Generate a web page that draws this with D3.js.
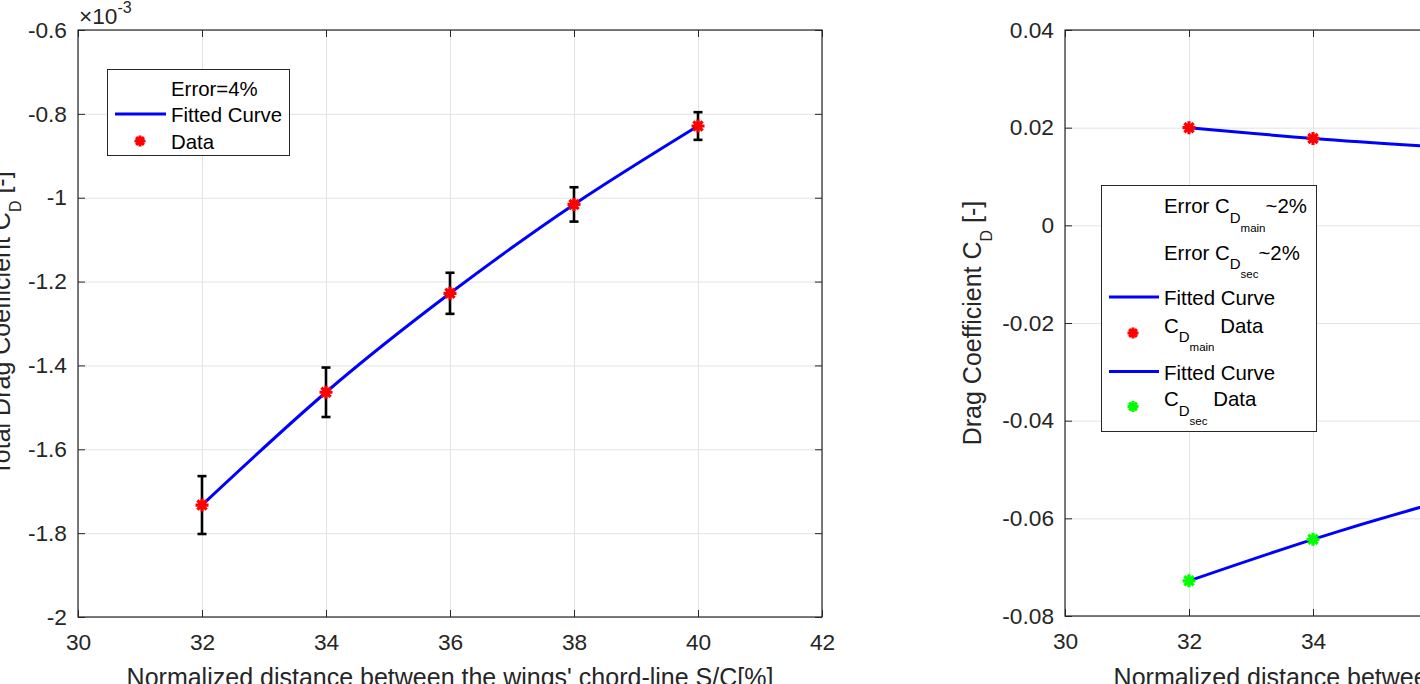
<!DOCTYPE html>
<html>
<head>
<meta charset="utf-8">
<script src="https://cdn.jsdelivr.net/npm/d3@7"></script>
<style>
  html, body { margin: 0; padding: 0; background: #fff; overflow: hidden; }
  svg { display: block; font-family: "Liberation Sans", Arial, Helvetica, sans-serif; }
</style>
</head>
<body>
<div id="chart"></div>
<script>
// Valores
const distances = [32, 34, 36, 38, 40];
const totalCd = [-1.733, -1.464, -1.228, -1.016, -0.829];      // x10^-3
const totalCdErr = [0.069, 0.059, 0.049, 0.041, 0.033];
const cdMain = [0.0200, 0.0178, 0.0161, 0.0146, 0.0133];
const cdSec = [-0.0728, -0.0643, -0.0568, -0.0503, -0.0445];

const xTicks = [30, 32, 34, 36, 38, 40, 42];
const leftYTicks = [-2, -1.8, -1.6, -1.4, -1.2, -1, -0.8, -0.6];
const rightYTicks = [-0.08, -0.06, -0.04, -0.02, 0, 0.02, 0.04];

const W = 1420, H = 684;
const axisColor = '#262626';
const gridColor = '#e3e3e3';
const tickFont = 22.7, labelFont = 25, legendFont = 20.4;

const svg = d3.select('#chart').append('svg')
    .attr('width', W).attr('height', H);
svg.append('rect').attr('width', W).attr('height', H).attr('fill', '#fff');

// asterisco tipo MATLAB
function asterisk(r) {
    const a = r * 0.7071;
    return `M${-r},0L${r},0M0,${-r}L0,${r}M${-a},${-a}L${a},${a}M${-a},${a}L${a},${-a}`;
}

function drawPanel(cfg) {
    const x = d3.scaleLinear().domain([30, 42]).range([cfg.left, cfg.left + 744]);
    const y = d3.scaleLinear().domain([cfg.yTicks[0], cfg.yTicks[cfg.yTicks.length - 1]])
        .range([cfg.bottom, cfg.top]);
    const h = cfg.bottom - cfg.top;
    const g = svg.append('g');

    // rejilla
    g.append('g').attr('transform', `translate(0,${cfg.bottom})`)
        .call(d3.axisBottom(x).tickValues(xTicks).tickSize(-h).tickFormat(''))
        .call(s => s.select('.domain').remove())
        .call(s => s.selectAll('line').attr('stroke', gridColor));
    g.append('g').attr('transform', `translate(${cfg.left},0)`)
        .call(d3.axisLeft(y).tickValues(cfg.yTicks).tickSize(-744).tickFormat(''))
        .call(s => s.select('.domain').remove())
        .call(s => s.selectAll('line').attr('stroke', gridColor));

    // ejes con marcas hacia dentro
    const styleAxis = s => {
        s.select('.domain').remove();
        s.selectAll('line').attr('stroke', axisColor);
        s.selectAll('text').attr('fill', axisColor).attr('font-size', tickFont)
            .attr('font-family', '"Liberation Sans", Arial, sans-serif');
    };
    g.append('g').attr('transform', `translate(0,${cfg.bottom})`)
        .call(d3.axisBottom(x).tickValues(xTicks).tickSizeInner(-7).tickSizeOuter(0)
            .tickPadding(17).tickFormat(d => String(d)))
        .call(styleAxis);
    g.append('g').attr('transform', `translate(0,${cfg.top})`)
        .call(d3.axisTop(x).tickValues(xTicks).tickSizeInner(-7).tickSizeOuter(0).tickFormat(''))
        .call(styleAxis);
    g.append('g').attr('transform', `translate(${cfg.left},0)`)
        .call(d3.axisLeft(y).tickValues(cfg.yTicks).tickSizeInner(-7).tickSizeOuter(0)
            .tickPadding(11).tickFormat(d => String(d)))
        .call(styleAxis);
    g.append('g').attr('transform', `translate(${cfg.left + 744},0)`)
        .call(d3.axisRight(y).tickValues(cfg.yTicks).tickSizeInner(-7).tickSizeOuter(0).tickFormat(''))
        .call(styleAxis);

    g.append('rect')
        .attr('x', cfg.left).attr('y', cfg.top)
        .attr('width', 744).attr('height', h)
        .attr('fill', 'none').attr('stroke', axisColor).attr('stroke-width', 1.2);

    // etiqueta eje x
    g.append('text')
        .attr('x', cfg.left + 372).attr('y', 686)
        .attr('text-anchor', 'middle')
        .attr('font-size', labelFont).attr('fill', axisColor)
        .text("Normalized distance between the wings' chord-line S/C[%]");

    // etiqueta eje y con subíndice
    const yl = g.append('text')
        .attr('transform', `translate(${cfg.ylabelX},${(cfg.top + cfg.bottom) / 2}) rotate(-90)`)
        .attr('text-anchor', 'middle')
        .attr('font-size', labelFont).attr('fill', axisColor);
    yl.append('tspan').text(cfg.ylabel);
    yl.append('tspan').attr('font-size', 16).attr('dy', 11).text('D');
    yl.append('tspan').attr('dy', -11).text(' [-]');

    return { g, x, y };
}

// ---------- panel izquierdo ----------
const L = drawPanel({
    left: 78, top: 30, bottom: 617,
    yTicks: leftYTicks, ylabel: 'Total Drag Coefficient C', ylabelX: 10
});

const exp = L.g.append('text')
    .attr('x', 79).attr('y', 24)
    .attr('font-size', tickFont).attr('fill', axisColor);
exp.append('tspan').text('\u00d710');
exp.append('tspan').attr('font-size', 16).attr('dy', -11).text('-3');

const leftPts = distances.map((d, i) => ({ x: d, v: totalCd[i], e: totalCdErr[i] }));

L.g.append('path')
    .datum(leftPts)
    .attr('fill', 'none').attr('stroke', '#0000ff').attr('stroke-width', 3)
    .attr('d', d3.line().x(d => L.x(d.x)).y(d => L.y(d.v)).curve(d3.curveNatural));

// barras de error
const eb = L.g.append('g').attr('stroke', '#000').attr('stroke-width', 2.6);
leftPts.forEach(d => {
    const cx = L.x(d.x);
    const y1 = L.y(d.v - d.e), y2 = L.y(d.v + d.e);
    eb.append('line').attr('x1', cx).attr('x2', cx).attr('y1', y1).attr('y2', y2);
    eb.append('line').attr('x1', cx - 4.5).attr('x2', cx + 4.5).attr('y1', y1).attr('y2', y1);
    eb.append('line').attr('x1', cx - 4.5).attr('x2', cx + 4.5).attr('y1', y2).attr('y2', y2);
});

L.g.selectAll('.mk').data(leftPts).join('path')
    .attr('transform', d => `translate(${L.x(d.x)},${L.y(d.v)})`)
    .attr('d', asterisk(6.5))
    .attr('stroke', '#ff0000').attr('stroke-width', 3.2).attr('fill', 'none');

// leyenda izquierda
const lg = L.g.append('g');
lg.append('rect').attr('x', 107.5).attr('y', 69.5).attr('width', 182).attr('height', 86)
    .attr('fill', '#fff').attr('stroke', axisColor).attr('stroke-width', 1);
lg.append('text').attr('x', 171).attr('y', 95.5).attr('font-size', legendFont).text('Error=4%');
lg.append('line').attr('x1', 115).attr('x2', 166).attr('y1', 114).attr('y2', 114)
    .attr('stroke', '#0000ff').attr('stroke-width', 3);
lg.append('text').attr('x', 171).attr('y', 121.5).attr('font-size', legendFont).text('Fitted Curve');
lg.append('path').attr('transform', 'translate(140,141)').attr('d', asterisk(5.5))
    .attr('stroke', '#ff0000').attr('stroke-width', 3).attr('fill', 'none');
lg.append('text').attr('x', 171).attr('y', 148.5).attr('font-size', legendFont).text('Data');

// ---------- panel derecho ----------
const R = drawPanel({
    left: 1065, top: 30, bottom: 616,
    yTicks: rightYTicks, ylabel: 'Drag Coefficient C', ylabelX: 981
});

const series = [
    { vals: cdMain, color: '#ff0000' },
    { vals: cdSec, color: '#00ff00' }
];
series.forEach(s => {
    const pts = distances.map((d, i) => ({ x: d, v: s.vals[i] }));
    R.g.append('path').datum(pts)
        .attr('fill', 'none').attr('stroke', '#0000ff').attr('stroke-width', 3)
        .attr('d', d3.line().x(d => R.x(d.x)).y(d => R.y(d.v)).curve(d3.curveNatural));
    R.g.append('g').selectAll('path').data(pts).join('path')
        .attr('transform', d => `translate(${R.x(d.x)},${R.y(d.v)})`)
        .attr('d', asterisk(6.5))
        .attr('stroke', s.color).attr('stroke-width', 3.2).attr('fill', 'none');
});

// leyenda derecha
const rg = R.g.append('g');
rg.append('rect').attr('x', 1101.5).attr('y', 185.5).attr('width', 215).attr('height', 246)
    .attr('fill', '#fff').attr('stroke', axisColor).attr('stroke-width', 1);

function cdText(yBase, pre, sub, post) {
    const t = rg.append('text').attr('x', 1164).attr('y', yBase).attr('font-size', legendFont);
    t.append('tspan').text(pre + 'C');
    t.append('tspan').attr('font-size', 15).attr('dy', 9.7).text('D');
    t.append('tspan').attr('font-size', 11.5).attr('dy', 9).text(sub);
    t.append('tspan').attr('font-size', legendFont).attr('dy', -18.7).text(post);
}
cdText(213, 'Error ', 'main', '~2%');
cdText(259.5, 'Error ', 'sec', '~2%');

[305, 379.5].forEach(yb => {
    rg.append('line').attr('x1', 1109).attr('x2', 1159).attr('y1', yb - 8).attr('y2', yb - 8)
        .attr('stroke', '#0000ff').attr('stroke-width', 3);
    rg.append('text').attr('x', 1164).attr('y', yb).attr('font-size', legendFont).text('Fitted Curve');
});

cdText(332.5, '', 'main', ' Data');
cdText(406, '', 'sec', ' Data');
rg.append('path').attr('transform', 'translate(1133,333)').attr('d', asterisk(5.5))
    .attr('stroke', '#ff0000').attr('stroke-width', 3).attr('fill', 'none');
rg.append('path').attr('transform', 'translate(1133,406.5)').attr('d', asterisk(5.5))
    .attr('stroke', '#00ff00').attr('stroke-width', 3).attr('fill', 'none');
</script>
</body>
</html>
